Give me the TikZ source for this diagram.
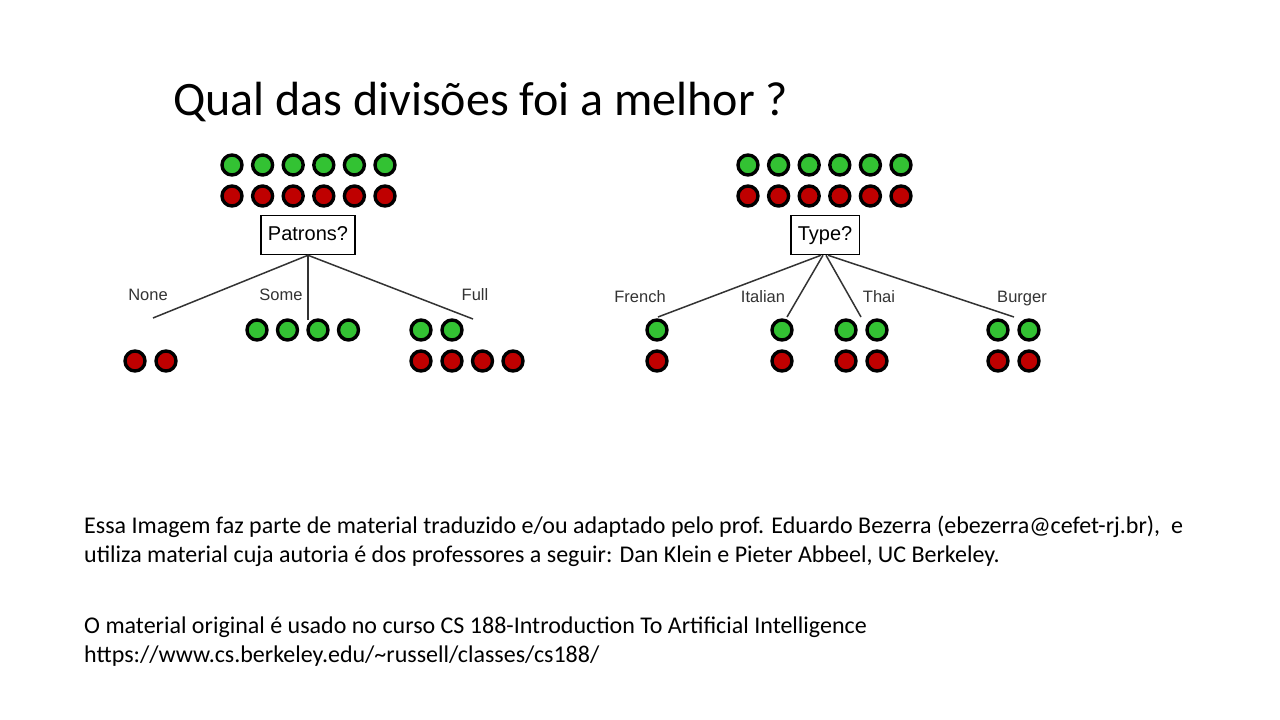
\documentclass[tikz,border=0pt]{standalone}
\usepackage{fontspec}
\setmainfont{Carlito}
\newfontfamily\arialf{Liberation Sans}
\begin{document}
\begin{tikzpicture}[x=1pt,y=-1pt,
  gdot/.style={circle,draw=black,line width=3.4pt,fill=green!70!black!80,minimum size=20pt,inner sep=0pt},
  rdot/.style={circle,draw=black,line width=3.4pt,fill=red!75!black,minimum size=20pt,inner sep=0pt},
  qbox/.style={draw=black,line width=1.5pt,fill=white,font=\arialf\fontsize{20}{23}\selectfont,minimum height=39pt,inner xsep=7pt,text height=14pt,text depth=4pt},
  lbl/.style={anchor=base,font=\arialf\fontsize{16.5}{18}\selectfont,text=black!80,inner sep=0pt},
  br/.style={line width=1.5pt,black!80},
  ftxt/.style={anchor=base west,font=\fontsize{24}{28}\selectfont,inner sep=0}]
\useasboundingbox (0,0) rectangle (1280,720);
\fill[white] (0,0) rectangle (1280,720);
\node[anchor=base west,font=\fontsize{48}{56}\selectfont,inner sep=0] (title) at (173,115) {Qual das divisões foi a melhor ?};
% left tree
\foreach \i/\x in {1/232,2/262.6,3/293.2,4/323.8,5/354.4,6/385}{
  \node[gdot] (lg\i) at (\x,165) {};
  \node[rdot] (lr\i) at (\x,196) {};}
\node[qbox] (pat) at (308,235) {Patrons?};
\coordinate (pn) at (153,318);
\coordinate (ps) at (308,320);
\coordinate (pf) at (473,319);
\draw[br] (pat.south) -- (pn);
\draw[br] (pat.south) -- (ps);
\draw[br] (pat.south) -- (pf);
\node[lbl] (lnone) at (148,300) {None};
\node[lbl] (lsome) at (281,300) {Some};
\node[lbl] (lfull) at (475,300) {Full};
\foreach \i/\x in {1/135,2/166}{\node[rdot] (nr\i) at (\x,361) {};}
\foreach \i/\x in {1/257,2/287.5,3/318,4/348.5}{\node[gdot] (sg\i) at (\x,330) {};}
\foreach \i/\x in {1/421,2/452}{\node[gdot] (fg\i) at (\x,330) {};}
\foreach \i/\x in {1/421,2/452,3/482.5,4/513}{\node[rdot] (fr\i) at (\x,361) {};}
% right tree
\foreach \i/\x in {1/748,2/778.6,3/809.2,4/839.8,5/870.4,6/901}{
  \node[gdot] (rg\i) at (\x,165) {};
  \node[rdot] (rr\i) at (\x,196) {};}
\node[qbox] (typ) at (825,235) {Type?};
\coordinate (tf) at (658,317);
\coordinate (ti) at (787,317);
\coordinate (tt) at (861,317);
\coordinate (tb) at (1014,317);
\draw[br] ([xshift=-4pt]typ.south) -- (tf);
\draw[br] ([xshift=-2pt]typ.south) -- (ti);
\draw[br] ([xshift=1pt]typ.south) -- (tt);
\draw[br] ([xshift=3pt]typ.south) -- (tb);
\node[lbl] (lfr) at (640,302) {French};
\node[lbl] (lit) at (763,302) {Italian};
\node[lbl] (lth) at (879,302) {Thai};
\node[lbl] (lbu) at (1022,302) {Burger};
\node[gdot] (frg) at (657,330) {}; \node[rdot] (frr) at (657,361) {};
\node[gdot] (itg) at (782,330) {}; \node[rdot] (itr) at (782,361) {};
\foreach \i/\x in {1/846,2/877}{\node[gdot] (thg\i) at (\x,330) {};\node[rdot] (thr\i) at (\x,361) {};}
\foreach \i/\x in {1/998,2/1029}{\node[gdot] (bug\i) at (\x,330) {};\node[rdot] (bur\i) at (\x,361) {};}
% footer
\node[ftxt] (cred1) at (84,533) {Essa Imagem faz parte de material traduzido e/ou adaptado pelo prof. Eduardo Bezerra (ebezerra@cefet-rj.br),\ \ e};
\node[ftxt] (cred2) at (84,562) {utiliza material cuja autoria é dos professores a seguir: Dan Klein e Pieter Abbeel, UC Berkeley.};
\node[ftxt] (orig1) at (84,633) {O material original é usado no curso CS 188-Introduction To Artificial Intelligence};
\node[ftxt] (orig2) at (84,662) {https://www.cs.berkeley.edu/\textasciitilde russell/classes/cs188/};
\end{tikzpicture}
\end{document}
